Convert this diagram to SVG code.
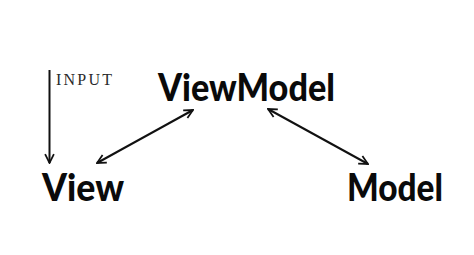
<svg xmlns="http://www.w3.org/2000/svg" width="474" height="255" viewBox="0 0 474 255">
<defs>
<style>
.big{font-family:Lato,"Open Sans","Liberation Sans",sans-serif;font-weight:900;font-size:38px;fill:#0a0a0a;}
.small{font-family:"Liberation Serif",serif;font-size:16px;fill:#2a2a2a;}
.conn{stroke:#111;stroke-width:2;fill:none;}
</style>
<marker id="ah" viewBox="0 0 10 10" refX="9" refY="5" markerWidth="5.5" markerHeight="5.5" orient="auto-start-reverse" markerUnits="strokeWidth">
<path d="M1,1 L9,5 L1,9" fill="none" stroke="#111" stroke-width="1.6"/>
</marker>
</defs>
<rect width="474" height="255" fill="#fff"/>
<g id="connectors">
<line class="conn" x1="49.5" y1="70" x2="49.5" y2="163" marker-end="url(#ah)"/>
<line class="conn" x1="97" y1="163" x2="193" y2="110" marker-start="url(#ah)" marker-end="url(#ah)"/>
<line class="conn" x1="268" y1="109" x2="368" y2="164" marker-start="url(#ah)" marker-end="url(#ah)"/>
</g>
<g id="input"><text class="small" x="56" y="85" textLength="56" lengthAdjust="spacing">INPUT</text></g>
<g id="viewmodel"><text class="big" x="158" y="101" textLength="177" lengthAdjust="spacingAndGlyphs">ViewModel</text></g>
<g id="view"><text class="big" x="42" y="201" textLength="82" lengthAdjust="spacingAndGlyphs">View</text></g>
<g id="model"><text class="big" x="347" y="201" textLength="96" lengthAdjust="spacingAndGlyphs">Model</text></g>
</svg>
